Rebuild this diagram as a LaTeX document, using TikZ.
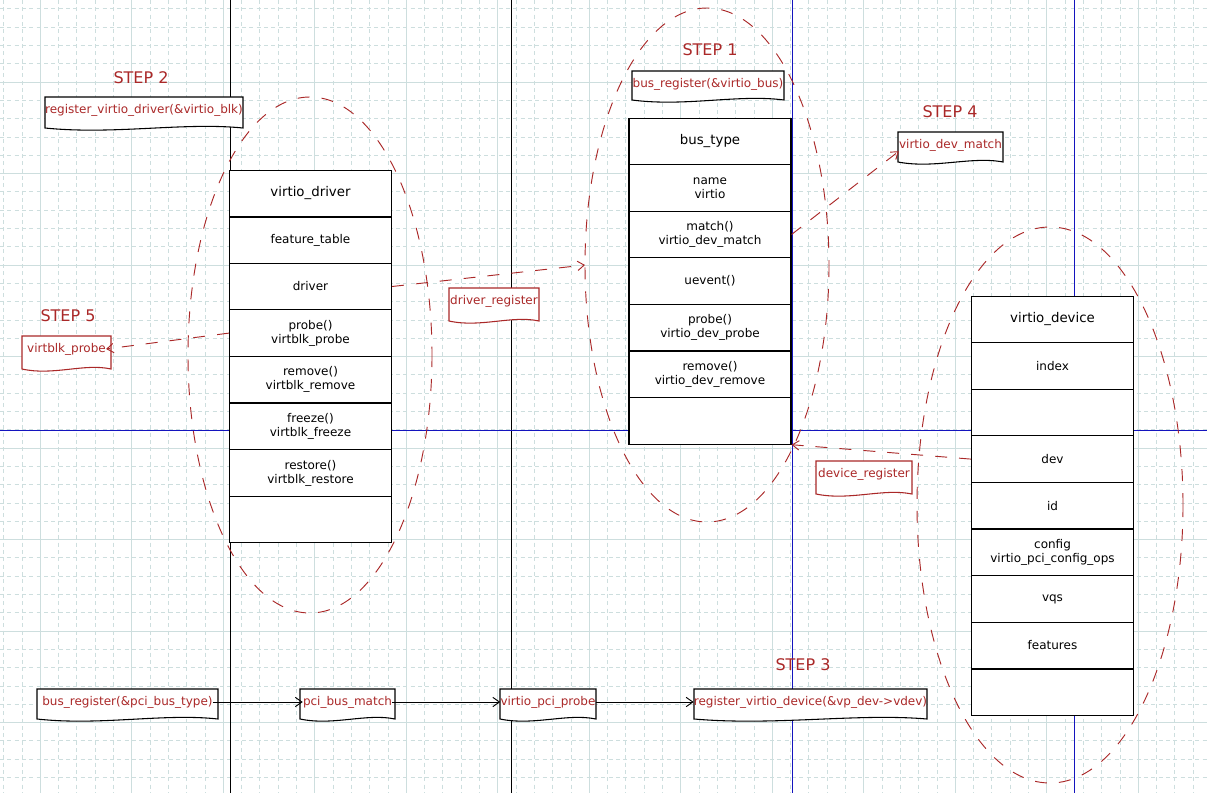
\documentclass[tikz,border=0pt]{standalone}
\usepackage{fontspec}
\setmainfont{DejaVu Sans}
\usetikzlibrary{arrows.meta}
\definecolor{dred}{RGB}{170,40,40}
\definecolor{gridc}{RGB}{205,222,222}
\definecolor{axb}{RGB}{20,20,190}
\begin{document}
\begin{tikzpicture}[x=0.75pt,y=-0.75pt,
  cell/.style={draw=black,line width=0.8pt,minimum width=121.5pt,minimum height=34.9pt,inner sep=0pt,align=center,font=\fontsize{9}{10.5}\selectfont},
  steplbl/.style={text=dred,font=\fontsize{12}{14}\selectfont},
  doct/.style={text=dred,font=\fontsize{9}{10}\selectfont,inner sep=0pt},
  ell/.style={draw=dred,line width=0.7pt,dash pattern=on 9pt off 9pt},
  darr/.style={draw=dred,line width=0.7pt,dash pattern=on 9pt off 9pt,-{Straight Barb[length=5pt,width=7pt]}},
  barr/.style={draw=black,line width=0.7pt,-{Straight Barb[length=5pt,width=7pt]}}]
\useasboundingbox (0,0) rectangle (1207,793);
\fill[white] (0,0) rectangle (1207,793);
% grid
\foreach \i in {0,...,66} {\draw[gridc,line width=0.5pt,dash pattern=on 3pt off 2.5pt] ({3.6+\i*18.3},0) -- ({3.6+\i*18.3},793);}
\foreach \i in {0,...,44} {\draw[gridc,line width=0.5pt,dash pattern=on 3pt off 2.5pt] (0,{8.8+\i*18.3}) -- (1207,{8.8+\i*18.3});}
\foreach \i in {0,...,13} {\draw[gridc,line width=0.6pt] ({40+\i*91.5},0) -- ({40+\i*91.5},793);}
\foreach \i in {0,...,8} {\draw[gridc,line width=0.6pt] (0,{82+\i*91.5}) -- (1207,{82+\i*91.5});}
% axes
\draw[black,line width=0.7pt] (230,0) -- (230,793);
\draw[black,line width=0.7pt] (511,0) -- (511,793);
\draw[axb,line width=0.7pt] (792,0) -- (792,793);
\draw[axb,line width=0.7pt] (1074,0) -- (1074,793);
\draw[axb,line width=0.7pt] (0,430) -- (1207,430);

% virtio_driver table
\foreach \t [count=\k] in {{},feature\_table,driver,{probe()\\virtblk\_probe},{remove()\\virtblk\_remove},{freeze()\\virtblk\_freeze},{restore()\\virtblk\_restore},{}} {
  \node[cell,fill=white] (d\k) at (310.5,{170+23.3+(\k-1)*46.6}) {\t};}
\node[font=\fontsize{10}{12}\selectfont] at (d1) {virtio\_driver};
\draw[line width=1.5pt] (230,217) -- (391,217);
% bus_type table
\foreach \t [count=\k] in {{},{name\\virtio},{match()\\virtio\_dev\_match},uevent(),{probe()\\virtio\_dev\_probe},{remove()\\virtio\_dev\_remove},{}} {
  \node[cell,fill=white] (b\k) at (710,{118+23.3+(\k-1)*46.6}) {\t};}
\node[font=\fontsize{10}{12}\selectfont] at (b1) {bus\_type};
% virtio_device table
\foreach \t [count=\k] in {{},index,{},dev,id,{config\\virtio\_pci\_config\_ops},vqs,features,{}} {
  \node[cell,fill=white] (v\k) at (1052.5,{296+23.3+(\k-1)*46.6}) {\t};}
\node[font=\fontsize{10}{12}\selectfont] at (v1) {virtio\_device};
\draw[line width=1.5pt] (971,669) -- (1134,669);

% ellipses
\draw[ell] (310,355) ellipse [x radius=122, y radius=258];
\draw[ell] (707,265) ellipse [x radius=122, y radius=257];
\draw[ell] (1050,505) ellipse [x radius=133, y radius=278];

% wavy doc boxes
\newcommand\wdoc[7]{%
  \draw[#7,line width=0.8pt,fill=white] (#2,{#5-3}) -- (#2,#3) -- (#4,#3) -- (#4,{#5-3})
    .. controls ({#4-0.3*(#4-#2)},{#5-9}) and ({#2+0.35*(#4-#2)},{#5+4}) .. (#2,{#5-3}) -- cycle;
  \node[doct] (#1) at ({(#2+#4)/2},{#3+13}) {#6};}
\wdoc{rvd}{45}{97}{243}{131}{register\_virtio\_driver(\&virtio\_blk)}{black}
\wdoc{brv}{632}{71}{784}{103}{bus\_register(\&virtio\_bus)}{black}
\wdoc{vdm}{898}{132}{1003}{165}{virtio\_dev\_match}{black}
\wdoc{drr}{449}{288}{539}{324}{driver\_register}{dred}
\wdoc{vbp}{22}{336}{111}{372}{virtblk\_probe}{dred}
\wdoc{dvr}{816}{461}{912}{497}{device\_register}{dred}
\wdoc{bpci}{37}{689}{218}{722}{bus\_register(\&pci\_bus\_type)}{black}
\wdoc{pbm}{300}{689}{395}{722}{pci\_bus\_match}{black}
\wdoc{vpp}{500}{689}{596}{722}{virtio\_pci\_probe}{black}
\wdoc{rvdev}{694}{689}{927}{722}{register\_virtio\_device(\&vp\_dev->vdev)}{black}

% steps
\node[steplbl] at (141,78) {STEP 2};
\node[steplbl] at (710,50) {STEP 1};
\node[steplbl] at (950,112) {STEP 4};
\node[steplbl] at (68,316) {STEP 5};
\node[steplbl] at (803,665) {STEP 3};

% dashed arrows
\coordinate (drvtip) at (585,265);
\draw[darr] (d3.east) -- (drvtip);
\draw[darr] (b3.east) -- (vdm.south west);
\draw[darr] (d4.west) -- (vbp.east);
\draw[darr] (v4.west) -- (b7.south east);
% solid arrows
\draw[barr] (bpci.east) -- (pbm.west);
\draw[barr] (pbm.east) -- (vpp.west);
\draw[barr] (vpp.east) -- (rvdev.west);
\end{tikzpicture}
\end{document}
